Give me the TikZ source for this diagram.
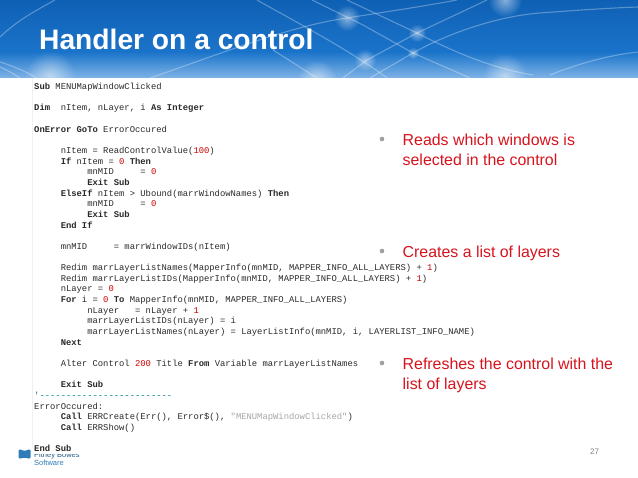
\documentclass[tikz,border=0pt]{standalone}
\usepackage{fontspec}
\setmainfont{Liberation Sans}
\setmonofont{Liberation Mono}
\usetikzlibrary{positioning, shapes.geometric, fadings}
\definecolor{headtop}{HTML}{0E60B4}
\definecolor{headmid}{HTML}{1B74CA}
\definecolor{headlow}{HTML}{7FB3E6}
\definecolor{notered}{HTML}{D7141E}
\definecolor{codegray}{HTML}{2A2A2A}
\definecolor{logoblue}{HTML}{2F7DB8}
\newcommand{\kw}[1]{\textbf{#1}}
\newcommand{\rednum}[1]{\textcolor{red!80!black}{#1}}
\newcommand{\tb}[1]{\hspace*{#1\dimexpr5.31pt\relax}}
\tikzfading[name=glowfade, inner color=transparent!50, outer color=transparent!100]
\tikzset{
    x=1pt, y=-1pt,
    node distance=17pt,
    wave/.style={white, opacity=.3, line width=1.1pt}, % thin arcs in the banner
    glow/.style={circle, inner sep=0pt, minimum size=#1, fill=white, path fading=glowfade},
    notedot/.style={circle, inner sep=0pt, minimum size=4.6pt, fill=gray!75},
    notetext/.style={text=notered, font=\fontsize{15.9}{19.4}\selectfont, align=left, inner sep=0pt},
    codetext/.style={text=codegray, font=\ttfamily\fontsize{8.85}{10.65}\selectfont, align=left, inner sep=0pt},
}
\begin{document}
\begin{tikzpicture}
    \useasboundingbox (0,0) rectangle (638,478);
    \fill[white] (0,0) rectangle (638,478);
    % banner
    \shade[top color=headtop, bottom color=headmid] (0,0) rectangle (638,52);
    \shade[top color=headmid, bottom color=headlow] (0,52) rectangle (638,78);
    \begin{scope}
        \clip (0,0) rectangle (638,78);
        \draw[wave] (0,37) .. controls (18,20) and (35,11) .. (55,0);
        \draw[wave] (0,62) .. controls (13,66) and (27,72) .. (37,78);
        \draw[wave] (0,67) .. controls (7,70) and (14,74) .. (20,78);
        \draw[wave] (150,78) .. controls (220,54) and (290,26) .. (347,18) .. controls (385,12) and (425,6) .. (457,0);
        \draw[wave] (257,0) .. controls (285,16) and (350,50) .. (387,78);
        \draw[wave] (312,0) -- (363,25) -- (413,53) -- (470,78);
        \draw[wave] (347,0) -- (417,33) .. controls (450,50) and (490,68) .. (533,75);
        \draw[wave] (273,50) -- (317,78);
        \draw[wave] (343,78) -- (367,60) -- (417,33) -- (487,0);
        \draw[wave] (370,78) -- (413,53) .. controls (450,32) and (500,16) .. (540,13) .. controls (580,10) and (610,8) .. (638,7);
        \draw[wave] (550,75) .. controls (580,63) and (610,55) .. (638,52);
        \node[glow=26pt] (glowa) at (347,18) {};
        \node[glow=18pt] (glowb) at (417,33) {};
        \node[glow=22pt] (glowc) at (365,60) {};
        \node[glow=12pt] (glowd) at (413,53) {};
        \node[glow=44pt] (glowe) at (505,76) {};
        \node[glow=34pt] (glowf) at (505,0) {};
        \node[glow=40pt] (glowg) at (317,80) {};
        \node[glow=50pt] (glowh) at (50,76) {};
    \end{scope}
    \node[anchor=base west, inner sep=0pt, text=white, font=\bfseries\fontsize{28.2}{32}\selectfont] (title) at (39,50) {Handler on a control};
    % logo and footer
    \node[anchor=base west, inner sep=0pt, text=logoblue, font=\fontsize{7.5}{9}\selectfont] (softw) at (34,466) {Software};
    \node[anchor=base west, inner sep=0pt, text=logoblue!70!black, font=\fontsize{7.5}{9}\selectfont] (pitney) at (34,458) {Pitney Bowes};
    \fill[logoblue, rounded corners=1.5pt] (18.5,449) -- (24.5,451) -- (30.5,449) -- (30.5,459) -- (24.5,457.5) -- (18.5,459) -- cycle;
    \node[text=gray, inner sep=0pt, font=\fontsize{8}{10}\selectfont] (pagenr) at (594.5,452) {27};
    % code screenshot
    \fill[white] (32,78) rectangle (372,454.5);
    \draw[gray!12] (32,78) -- (32,448);
    \node[codetext, anchor=north west] (code) at (34,83) {%
        \kw{Sub} MENUMapWindowClicked\\[10.65pt]
        \kw{Dim}\tb{2}nItem, nLayer, i \kw{As Integer}\\[10.65pt]
        \kw{OnError GoTo} ErrorOccured\\[10.65pt]
        \tb{5}nItem = ReadControlValue(\rednum{100})\\
        \tb{5}\kw{If} nItem = \rednum{0} \kw{Then}\\
        \tb{10}mnMID\tb{5}= \rednum{0}\\
        \tb{10}\kw{Exit Sub}\\
        \tb{5}\kw{ElseIf} nItem > Ubound(marrWindowNames) \kw{Then}\\
        \tb{10}mnMID\tb{5}= \rednum{0}\\
        \tb{10}\kw{Exit Sub}\\
        \tb{5}\kw{End If}\\[10.65pt]
        \tb{5}mnMID\tb{5}= marrWindowIDs(nItem)\\[10.65pt]
        \tb{5}Redim marrLayerListNames(MapperInfo(mnMID, MAPPER\_INFO\_ALL\_LAYERS) + \rednum{1})\\
        \tb{5}Redim marrLayerListIDs(MapperInfo(mnMID, MAPPER\_INFO\_ALL\_LAYERS) + \rednum{1})\\
        \tb{5}nLayer = \rednum{0}\\
        \tb{5}\kw{For} i = \rednum{0} \kw{To} MapperInfo(mnMID, MAPPER\_INFO\_ALL\_LAYERS)\\
        \tb{10}nLayer\tb{3}= nLayer + \rednum{1}\\
        \tb{10}marrLayerListIDs(nLayer) = i\\
        \tb{10}marrLayerListNames(nLayer) = LayerListInfo(mnMID, i, LAYERLIST\_INFO\_NAME)\\
        \tb{5}\kw{Next}\\[10.65pt]
        \tb{5}Alter Control \rednum{200} Title \kw{From} Variable marrLayerListNames\\[10.65pt]
        \tb{5}\kw{Exit Sub}\\
        \textcolor{teal}{'-------------------------}\\
        ErrorOccured:\\
        \tb{5}\kw{Call} ERRCreate(Err(), Error\$(), \textcolor{gray!70}{"MENUMapWindowClicked"})\\
        \tb{5}\kw{Call} ERRShow()\\[10.65pt]
        \kw{End Sub}};
    % notes at the right
    \node[notedot] (dota) at (382,139) {};
    \node[notetext, anchor=base west] (notea) at (402.5,165.4) {Reads which windows is\\selected in the control};
    \node[notedot] (dotb) at (382,251) {};
    \node[notetext, anchor=base west] (noteb) at (402.5,258) {Creates a list of layers};
    \node[notedot] (dotc) at (382,363) {};
    \node[notetext, anchor=base west] (notec) at (402.5,389.4) {Refreshes the control with the\\list of layers};
\end{tikzpicture}
\end{document}
